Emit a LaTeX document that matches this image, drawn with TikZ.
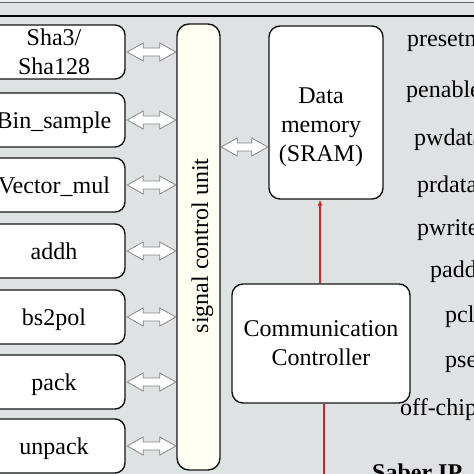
\documentclass[tikz,border=0pt]{standalone}
\usepackage{fontspec}
\setmainfont{Liberation Serif}
\usetikzlibrary{calc,arrows.meta}
\definecolor{bgc}{RGB}{222,226,226}
\definecolor{topc}{RGB}{236,238,238}
\definecolor{cream}{RGB}{255,255,244}
\definecolor{arrgray}{RGB}{135,135,135}
\definecolor{redl}{RGB}{215,35,35}
\definecolor{edge}{RGB}{20,20,20}
\newcommand\hollowarrow[2]{%
  \draw[dblarrow] (#1) -- ++(16,-9) -- ++(0,5) -- ($(#2)+(-16,-4)$) -- ++(0,-5) -- (#2)
     -- ++(-16,9) -- ++(0,-5) -- ($(#1)+(16,4)$) -- ++(0,5) -- cycle;}
\begin{document}
\begin{tikzpicture}[x=1pt,y=-1pt,
  big/.style={font=\fontsize{24}{29}\selectfont},
  modbox/.style={draw=edge, fill=white, rounded corners=10pt, minimum width=142pt,
    minimum height=54pt, line width=1.4pt, inner sep=0pt, big, text height=16pt, text depth=0pt},
  modbox2/.style={draw=edge, fill=white, rounded corners=10pt, minimum width=142pt,
    minimum height=54pt, line width=1.4pt, inner sep=0pt, big, align=center},
  bigbox/.style={draw=edge, fill=white, rounded corners=11pt, line width=1.4pt, inner sep=0pt, big, align=center},
  scubox/.style={draw=edge, fill=cream, rounded corners=12pt, line width=1.4pt, inner sep=0pt},
  dblarrow/.style={draw=arrgray, fill=white, line width=0.8pt, line join=miter},
  redline/.style={draw=redl, line width=1.3pt},
  rtext/.style={anchor=base west, inner sep=0pt, big},
]
\useasboundingbox (0,0) rectangle (474,474);
\clip (0,0) rectangle (474,474);
\fill[bgc] (0,0) rectangle (474,474);
\fill[topc] (0,0) rectangle (474,2.5);
\draw[line width=0.9pt, draw=black!60] (0,2.5) -- (474,2.5);
\draw[line width=1.5pt, draw=black] (0,16) -- (474,16);

% modules
\node[modbox2] (sha) at (54,52) {Sha3/\\Sha128};
\node[modbox] (bin) at (54,120) {Bin\_sample};
\node[modbox] (vec) at (54,185) {Vector\_mul};
\node[modbox] (addh) at (54,251) {addh};
\node[modbox] (bs) at (54,317) {bs2pol};
\node[modbox] (pack) at (54,382) {pack};
\node[modbox] (unpack) at (54,446) {unpack};

% signal control unit
\node[scubox, minimum width=43pt, minimum height=446pt] (scu) at (198.5,247) {};
\node[rotate=90, anchor=base, inner sep=0pt, big] (scutext) at (208,246) {signal control unit};

% data memory
\node[bigbox, minimum width=114pt, minimum height=173pt] (dm) at (326,112.5) {};
\node[inner sep=0pt, big, align=center] (dmtext) at (321,127) {Data\\memory\\(SRAM)};

% communication controller
\node[bigbox, minimum width=178pt, minimum height=119pt] (cc) at (321,343.5) {Communication\\Controller};

% hollow double arrows
\foreach \m in {sha,bin,vec,addh,bs,pack,unpack} {
  \coordinate (L\m) at ($(\m.east)+(1.5,0)$);
  \coordinate (R\m) at ($(scu.west |- \m.east)+(-0.5,0)$);
  \hollowarrow{L\m}{R\m}
}
\coordinate (Ldm) at ($(scu.east |- 0,147)+(0.5,0)$);
\coordinate (Rdm) at ($(dm.west |- Ldm)+(-0.5,0)$);
\hollowarrow{Ldm}{Rdm}

% red connections
\coordinate (ccTop) at ([xshift=-1pt]cc.north);
\draw[redline, -{Latex[length=6pt,width=5pt]}] (ccTop) -- (ccTop |- dm.south);
\coordinate (ccBot) at ([xshift=3pt]cc.south);
\coordinate (bot) at (ccBot |- 0,480);
\draw[redline] (ccBot) -- (bot);

% right side signals
\node[rtext] (s1) at (407,46) {presetn};
\node[rtext] (s2) at (406,97) {penable};
\node[rtext] (s3) at (414,145) {pwdata};
\node[rtext] (s4) at (417,192) {prdata};
\node[rtext] (s5) at (417,235) {pwrite};
\node[rtext] (s6) at (430,277) {paddr};
\node[rtext] (s7) at (445,322) {pclk};
\node[rtext] (s8) at (445,367) {psel};
\node[rtext] (s9) at (400,415) {off-chip};
\node[rtext, font=\fontsize{24}{29}\selectfont\bfseries] (ip) at (372,480) {Saber IP};
\end{tikzpicture}
\end{document}
